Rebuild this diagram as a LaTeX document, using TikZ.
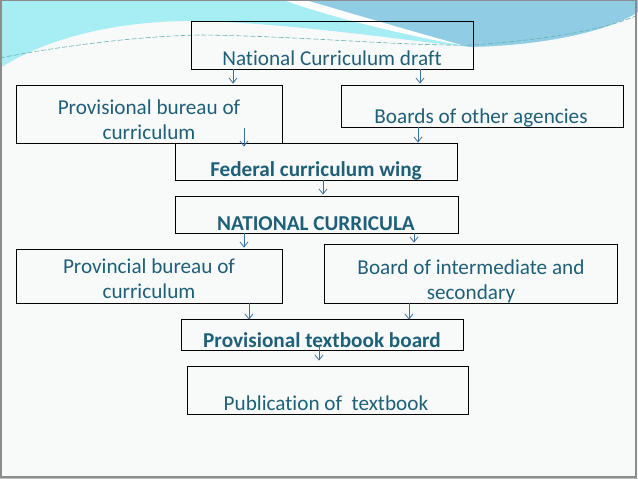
\documentclass[tikz,border=0pt]{standalone}
\usepackage{fontspec}
\setmainfont{Carlito}[Ligatures=NoCommon]
\usetikzlibrary{arrows.meta,calc}
\definecolor{slidetext}{HTML}{1F6079}
\definecolor{arrowblue}{HTML}{3A6E9E}
\definecolor{swirlcyan}{HTML}{A6EDF4}
\definecolor{swirlblue}{HTML}{90CDE5}
\definecolor{slidebg}{HTML}{F8F9F9}
\tikzset{
  stagebox/.style={draw=black, line width=0.8pt, rectangle, inner sep=0pt},
  stagetext/.style={anchor=base, text=slidetext, inner sep=0pt, align=center,
    font=\fontsize{21.2}{25}\selectfont},
  stagebold/.style={stagetext, font=\fontsize{21.2}{25}\selectfont\bfseries},
  flowarrow/.style={draw=arrowblue, line width=0.8pt,
    -{Straight Barb[length=5pt,width=8pt]}}
}
% box from corner (#2,#3) to corner (#4,#5), in pixels of the slide
\newcommand\stageat[5]{\node[stagebox, minimum width={#4-#2}, minimum height={#5-#3}] (#1) at ({(#2+#4)/2},{(#3+#5)/2}) {};}

\begin{document}
\begin{tikzpicture}[x=1pt, y=-1pt]
    %%%%% SLIDE %%%%%
    \useasboundingbox (0,0) rectangle (638,479);
    \fill[slidebg] (0,0) rectangle (638,479);
    
    \fill[swirlcyan] (0,0) -- (638,0) -- (638,12)
        .. controls (610,30) and (550,45) .. (470,47)
        .. controls (400,40) and (300,24) .. (200,21)
        .. controls (140,20) and (60,30) .. (0,68) -- cycle;
    \fill[swirlblue] (290,0) .. controls (350,20) and (420,36) .. (470,47)
        .. controls (550,45) and (610,30) .. (638,12) -- (638,0) -- cycle;
    \fill[white] (283,0) .. controls (340,20) and (410,36) .. (465,46)
        .. controls (400,28) and (340,10) .. (305,0) -- cycle;
    \draw[teal!60, line width=0.6pt, dash pattern=on 5pt off 2pt]
        (0,58) .. controls (60,46) and (140,36) .. (200,35)
        .. controls (300,36) and (400,46) .. (470,45)
        .. controls (550,40) and (610,28) .. (638,15);
    
    \draw[black!45, line width=1.2pt] (1,0) rectangle (636,477);
    \fill[black!25] (0,477.6) rectangle (638,479);
    
    %%%%% BOXES %%%%%
    \stageat{draft}{191}{21}{473}{69}
    \stageat{bureau}{16}{85}{282}{143}
    \stageat{boards}{341}{85}{623}{127}
    \stageat{federal}{175}{143}{457}{180}
    \stageat{curricula}{175}{196}{458}{233}
    \stageat{provincial}{16}{249}{282}{303}
    \stageat{intermediate}{324}{244}{617}{303}
    \stageat{textbook}{181}{319}{463}{350}
    \stageat{publication}{187}{366}{468}{414}
    
    % two-line texts sit on the baseline of their last line
    \node[stagetext] (draftT) at (332,65) {National Curriculum draft};
    \node[stagetext] (bureauT) at (149,139) {Provisional bureau of\\curriculum};
    \node[stagetext] (boardsT) at (481,123) {Boards of other agencies};
    \node[stagebold] (federalT) at (316,176) {Federal curriculum wing};
    \node[stagebold] (curriculaT) at (316,230) {NATIONAL CURRICULA};
    \node[stagetext] (provincialT) at (149,298) {Provincial bureau of\\curriculum};
    \node[stagetext] (intermediateT) at (471,299) {Board of intermediate and\\secondary};
    \node[stagebold] (textbookT) at (322,347) {Provisional textbook board};
    \node[stagetext] (publicationT) at (326,410) {Publication of~ textbook};
    
    %%%%% ARROWS %%%%%
    \draw[flowarrow] (233,0 |- draft.south) -- ([yshift=1pt]233,0 |- bureau.north);
    \draw[flowarrow] (420,0 |- draft.south) -- ([yshift=1pt]420,0 |- boards.north);
    \draw[flowarrow] ([yshift=15pt]244,0 |- bureau.south) -- ([yshift=-4pt]244,0 |- federal.north);
    \draw[flowarrow] (418,0 |- boards.south) -- (418,0 |- federal.north);
    \draw[flowarrow] (323,0 |- federal.south) -- ([yshift=1pt]323,0 |- curricula.north);
    \draw[flowarrow] (244,0 |- curricula.south) -- ([yshift=1pt]244,0 |- provincial.north);
    \draw[flowarrow] (414,0 |- curricula.south) -- ([yshift=1pt]414,0 |- intermediate.north);
    \draw[flowarrow] (249,0 |- provincial.south) -- ([yshift=-1pt]249,0 |- textbook.north);
    \draw[flowarrow] (409,0 |- intermediate.south) -- ([yshift=-1pt]409,0 |- textbook.north);
    \draw[flowarrow] ([yshift=3pt]319,0 |- textbook.south) -- ([yshift=5pt]319,0 |- publication.north);
    
    %%%%% END %%%%%
\end{tikzpicture}
\end{document}
